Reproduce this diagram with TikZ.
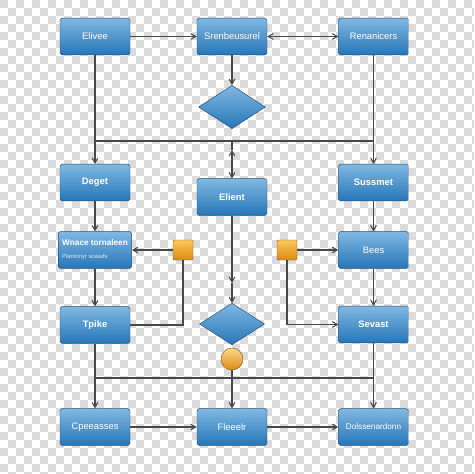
\documentclass[tikz,border=0pt]{standalone}
\usepackage{fontspec}
\setsansfont{Liberation Sans}
\usetikzlibrary{arrows,shapes,calc}

\definecolor{boxtop}{RGB}{128,184,226}
\definecolor{boxbot}{RGB}{38,118,184}
\definecolor{boxline}{RGB}{38,78,112}
\definecolor{sqtop}{RGB}{250,200,90}
\definecolor{sqbot}{RGB}{222,138,18}
\definecolor{sqline}{RGB}{130,84,20}
\definecolor{ballc}{RGB}{246,170,40}
\definecolor{wire}{RGB}{72,72,72}

\begin{document}
\begin{tikzpicture}[>=angle 60, x=0.3mm, y=-0.3mm, line width=0.9pt,
blk/.style ={rectangle, draw=boxline, thin, top color=boxtop, bottom color=boxbot, text=white, align=center, rounded corners=1.5pt, minimum height=1.1cm, minimum width=2.1cm},
dec/.style ={diamond, draw=boxline, thin, top color=boxtop, bottom color=boxbot, minimum width=2cm, minimum height=1.3cm, inner sep=0pt},
sq/.style ={rectangle, draw=sqline, thin, top color=sqtop, bottom color=sqbot, rounded corners=1pt, minimum size=0.6cm, inner sep=0pt},
dot/.style ={circle, draw=sqline, thin, top color=sqtop!70!white, bottom color=sqbot, minimum size=0.66cm, inner sep=0pt}]

\useasboundingbox (0,0) rectangle (474,474);
% checker background
\begin{scope}
\clip (0,0) rectangle (474,474);
\fill[white] (0,0) rectangle (474,474);
\foreach \i in {0,...,59}
  \foreach \j in {0,...,29}
    \fill[gray!28] ({\i*8},{(2*\j+mod(\i,2))*8}) rectangle +(8,8);
\end{scope}

\draw (95,36.5) node[blk] (Elivee) {\footnotesize\sf Elivee};
\draw (232,36.5) node[blk] (Sren) {\footnotesize\sf Srenbeusurel};
\draw (373.5,36.5) node[blk] (Renan) {\footnotesize\sf Renanicers};
\draw (232,107) node[dec] (Dia1) {};

\draw (95,182.5) node[blk] (Deget) {\footnotesize\sf\bfseries Deget};
\draw (232,197) node[blk] (Elient) {\footnotesize\sf\bfseries Elient};
\draw (373.5,182.5) node[blk] (Sussmet) {\footnotesize\sf\bfseries Sussmet};

\draw (95,250) node[blk, align=left] (Wnace) {\scriptsize\sf\bfseries Wnace tornaleen\\[-1pt] {\tiny\sf\color{white!75!boxtop} Plantonyr soaads}};
\draw (183,250) node[sq] (SqL) {};
\draw (287,250) node[sq] (SqR) {};
\draw (373.5,250) node[blk] (Bees) {\footnotesize\sf Bees};

\draw (95,325) node[blk] (Tpike) {\footnotesize\sf\bfseries Tpike};
\draw (232,324) node[dec, minimum width=1.95cm, minimum height=1.25cm] (Dia2) {};
\draw (373.5,324.5) node[blk] (Sevast) {\footnotesize\sf\bfseries Sevast};
\draw (232,359) node[dot] (Ball) {};

\draw (95,427) node[blk] (Cpee) {\footnotesize\sf Cpeeasses};
\draw (232,427) node[blk] (Flee) {\footnotesize\sf Fleeelr};
\draw (373.5,427) node[blk] (Dols) {\scriptsize\sf Dolssenardonn};

\coordinate (busA) at (232,141);
\coordinate (busE) at (232,150);
\coordinate (midE) at (232,283);
\coordinate (busB) at (232,378);

\begin{scope}[draw=wire]
\draw[->] (Elivee)--(Sren);
\draw[<->] (Sren)--(Renan);
\draw[->] (Sren)--(Dia1);
\draw[->] (Elivee)--(Deget);
\draw[->] (Renan)--(Sussmet);
\draw (busA -| Elivee)--(busA -| Renan);
\draw (busA)--(busE);
\draw[<->] (busE)--(Elient);

\draw[->] (Deget)--(Wnace);
\draw[->] (Wnace)--(Tpike);
\draw[->] (SqL)--(Wnace);
\draw (Tpike.east) -| (SqL.south);
\draw[->] (Elient)--(midE);
\draw[->] (midE)--(Dia2);
\draw[->] (Sussmet)--(Bees);
\draw[->] (Bees)--(Sevast);
\draw[->] (SqR)--(Bees);
\draw[->] (SqR.south) |- (Sevast.west);

\draw (busB -| Tpike)--(busB -| Sevast);
\draw[->] (Tpike)--(Cpee);
\draw[->] (Ball)--(Flee);
\draw[->] (Sevast)--(Dols);
\draw[->] (Cpee)--(Flee);
\draw[->] (Flee)--(Dols);
\end{scope}

\end{tikzpicture}
\end{document}
